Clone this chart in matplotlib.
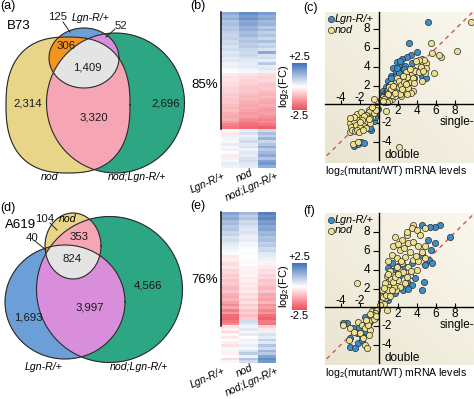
import numpy as np
import matplotlib
matplotlib.use('Agg')
import matplotlib.pyplot as plt
from matplotlib.colors import LinearSegmentedColormap, Normalize, to_rgba
from matplotlib.cm import ScalarMappable
from matplotlib.lines import Line2D

plt.rcParams['font.family'] = ['Liberation Sans', 'DejaVu Sans']
plt.rcParams['mathtext.fontset'] = 'custom'
plt.rcParams['mathtext.rm'] = 'Liberation Sans'
plt.rcParams['mathtext.it'] = 'Liberation Sans:italic'

W, H = 474, 399

#%% Venn counts (order: nod, Lgn, double, nod&Lgn, nod&double, Lgn&double, all)
venn_a_counts = [2314, 125, 2696, 306, 3320, 52, 1409]
venn_d_counts = [104, 1693, 4566, 40, 353, 3997, 824]
set_names = ['nod', 'Lgn-R/+', 'nod;Lgn-R/+']

#%% Heatmap rows (log2 FC), columns: Lgn-R/+, nod, nod;Lgn-R/+
b_lgn = [1.5, 1.2, 1.4, 1.0, 1.1, 0.9, 1.0, 0.8, 0.7, 0.8, 0.6, 0.7, 0.5, 0.6, 0.4, 0.5, 0.3, 0.4, 0.2, 0.25, 0.1, 0.05,
         -0.3, -0.4, -0.35, -0.5, -0.45, -0.6, -0.55, -0.7, -0.65, -0.8, -0.75, -0.9, -1.0, -0.9, -1.1, -1.2, -1.1, -1.4, -1.7, -1.9,
         0.1, -0.3, 0.2, -0.2, 0.1, 0.3, -0.1, 0.2, 0.0, -0.3, 0.2, 0.1, 0.3, 0.2]
b_nod = [2.0, 1.7, 1.9, 1.5, 1.6, 1.3, 1.4, 1.1, 1.2, 0.9, 1.0, 0.8, 0.9, 0.7, 0.6, 0.7, 0.5, 0.4, 0.3, 0.35, 0.2, 0.1,
         -0.4, -0.5, -0.6, -0.55, -0.7, -0.8, -0.75, -0.9, -1.0, -0.95, -1.1, -1.2, -1.15, -1.3, -1.4, -1.3, -1.6, -1.8, -2.0, -2.1,
         0.3, 0.5, 0.2, 0.4, 0.6, 0.3, 0.5, 0.2, 0.4, 0.3, 0.5, 0.6, 0.4, 0.3]
b_dbl = [1.7, 1.4, 1.6, 1.2, 1.3, 0.9, 1.2, 0.8, 1.0, 0.7, 1.1, 0.6, 0.8, 0.5, 1.5, 0.5, 0.6, 0.3, 0.9, 0.3, 0.4, 0.2,
         -0.5, -0.6, -0.5, -0.7, -0.8, -0.7, -0.9, -1.0, -0.9, -1.1, -1.2, -1.1, -1.3, -1.4, -1.3, -1.5, -1.7, -1.6, -1.9, -2.2,
         0.6, 1.1, 0.8, 1.3, 0.7, 1.0, 1.4, 0.9, 1.2, 1.5, 1.0, 1.6, 1.8, 1.4]
e_lgn = [1.6, 1.3, 1.5, 1.1, 1.2, 0.9, 1.0, 0.7, 0.8, 0.5, 0.6, 0.4, 0.3, 0.2, 0.1, 0.05,
         -0.3, -0.2, -0.4, -0.5, -0.3, -0.6, -0.5, -0.7, -0.6, -0.8, -0.7, -0.9, -1.0, -0.8, -1.1, -1.2, -1.0, -1.3, -1.6, -1.2,
         -1.8, -1.4, -2.0, -2.1, -1.9, -1.6,
         -0.4, -0.2, -0.5, -0.1, -0.3, 0.0, -0.2, -0.4, -0.1, 0.1, -0.2, 0.0, -0.5, 0.1]
e_nod = [1.2, 0.8, 1.0, 0.6, 0.7, 0.5, 0.4, 0.5, 0.3, 0.2, 0.3, 0.1, 0.15, 0.05, 0.0, 0.05, 0.0, -0.05, -0.1, 0.0, -0.15,
         -0.1, -0.2, -0.15, -0.3, -0.2, -0.35, -0.25, -0.4, -0.3, -0.5, -0.35, -0.6, -0.4, -0.7, -0.5, -0.8, -0.6, -0.9, -0.7,
         0.6, 0.4,
         0.2, 0.4, 0.1, 0.3, 0.0, 0.2, 0.1, 0.3, 0.1, 0.5, 0.9, 0.2, 1.0, 0.6]
e_dbl = [2.2, 1.9, 2.1, 1.7, 1.8, 1.5, 1.6, 1.2, 1.3, 1.0, 1.1, 0.8, 0.9, 0.6, 0.7, 0.4, 0.3, 0.2, 0.1, -0.2, -0.3,
         -0.5, -0.4, -0.6, -0.5, -0.8, -0.7, -0.9, -1.0, -0.8, -1.2, -1.1, -1.3, -1.0, -1.5, -1.3, -1.7, -1.5, -2.0, -2.2,
         -1.8, -1.9,
         -0.6, -0.3, 0.2, 0.5, 0.3, 0.8, 0.4, 1.0, 0.6, 1.3, 0.9, 1.6, 2.0, 1.8]
heat_cols = ['Lgn-R/+', 'nod', 'nod;Lgn-R/+']
b_pct, e_pct = '85%', '76%'

#%% Scatter: log2(mutant/WT), x = single mutant, y = double mutant
c_lgn = [(5.2, 8.8), (3.15, 6.6), (4.0, 5.6), (3.4, 5.3), (2.9, 5.1), (1.85, 4.5), (2.45, 4.85), (2.2, 4.25),
         (2.7, 4.1), (1.5, 3.9), (2.4, 3.7), (3.1, 3.5), (3.45, 4.4), (1.75, 3.5), (1.25, 3.0), (2.0, 3.0),
         (1.0, 2.45), (1.7, 2.45), (0.7, 1.9), (1.35, 1.75), (0.45, 1.4), (3.7, 2.8), (4.55, 3.05), (4.9, 2.8),
         (2.8, 3.3), (1.1, 2.1), (0.9, 1.5), (0.3, 0.9), (0.6, 1.2),
         (0.5, 0.9), (0.8, 1.4), (1.2, 2.0), (1.5, 2.6), (1.8, 3.0), (2.1, 3.3), (0.2, 0.5), (1.3, 2.8),
         (2.6, 3.8), (1.9, 3.9), (2.2, 4.6),
         (-2.6, -4.5), (-2.2, -4.2), (-1.9, -4.05), (-1.55, -4.1), (-0.8, -2.7), (-0.95, -2.5), (-0.5, -1.8),
         (-0.4, -1.35), (-0.3, -0.8), (-0.15, -0.5)]
c_nod = [(9.7, 8.8), (5.5, 6.55), (8.2, 5.7), (6.5, 5.1), (6.3, 5.3), (5.55, 5.5), (4.5, 4.85), (5.0, 4.4),
         (4.75, 4.7), (4.2, 4.7), (5.0, 3.9), (5.8, 3.35), (4.8, 3.35), (3.6, 1.45), (4.5, 2.45), (2.1, -4.55),
         (-0.5, 0.6), (0.7, -0.75),
         (1.0, 1.5), (1.5, 1.2), (2.0, 2.0), (2.5, 2.2), (3.0, 2.6), (3.2, 3.0), (2.8, 3.4), (3.5, 3.2), (3.8, 3.6),
         (4.0, 4.2), (2.2, 1.5), (1.8, 2.4), (2.6, 1.8), (3.0, 2.0), (3.4, 2.4), (1.2, 0.8), (0.8, 1.0), (1.6, 1.8),
         (2.4, 2.8), (3.6, 2.8), (4.2, 3.5), (4.4, 4.0), (3.9, 4.6), (3.3, 3.8), (2.9, 2.9), (2.0, 1.2), (1.4, 0.6),
         (0.6, 0.4), (0.4, 0.8), (2.7, 1.4), (3.1, 1.7), (2.3, 0.9), (1.7, 0.9), (3.4, 1.2), (2.5, 3.0), (1.9, 2.8),
         (1.3, 2.2), (0.9, 0.5), (0.3, 0.3), (1.1, 1.9), (2.1, 2.5), (4.6, 3.6), (3.7, 2.3), (2.9, 1.1),
         (0.2, 0.5), (0.5, 0.2), (0.7, 0.8), (1.0, 0.7), (1.2, 1.3), (1.4, 1.0), (1.6, 1.4), (1.8, 1.6), (0.9, 1.2),
         (1.1, 0.4), (1.3, 1.6), (1.5, 2.0), (1.9, 1.3), (2.1, 1.8), (2.3, 2.1), (2.6, 2.4), (2.2, 1.1), (0.5, 0.6),
         (0.8, 0.2), (1.7, 1.2), (2.4, 1.6), (2.8, 2.2), (1.0, 1.1), (0.4, 0.4),
         (-3.0, -3.0), (-3.1, -2.0), (-2.9, -2.4), (-2.8, -2.7), (-2.6, -1.8), (-2.4, -2.2), (-2.2, -1.5),
         (-2.0, -2.4), (-1.8, -1.2), (-1.5, -1.6), (-1.2, -0.9), (-1.0, -1.3), (-0.8, -0.6), (-0.5, -0.4),
         (-0.3, -0.2), (-2.5, -2.9), (-2.3, -2.7), (-1.6, -2.0), (-1.3, -1.8), (-0.9, -2.0), (-0.6, -1.0),
         (-2.3, -1.0), (-1.9, -0.8), (-2.7, -4.2), (-2.2, -4.0), (-2.6, -1.4), (-1.1, -0.6), (-0.7, -1.4),
         (-1.4, -2.5), (-2.1, -3.0), (-1.7, -2.8), (-3.0, -1.5),
         (-0.2, -0.4), (-0.4, -0.7), (-0.6, -0.5), (-0.8, -1.0), (-1.0, -0.8), (-1.2, -1.2), (-1.4, -1.1),
         (-0.5, -0.9), (-0.9, -1.5), (-1.6, -1.3), (-0.3, -0.6), (-1.1, -1.6), (-0.7, -0.3), (-1.8, -1.7),
         (-2.0, -1.9)]
f_lgn = [(6.4, 8.8), (5.9, 8.6), (5.4, 8.55), (4.55, 8.8), (7.5, 7.55), (5.2, 7.2), (5.9, 6.85), (5.5, 6.1),
         (4.5, 5.6), (5.25, 5.05), (5.6, 4.7), (4.85, 4.5), (3.45, 4.7), (2.75, 4.35), (1.35, 4.7), (1.0, 4.2),
         (1.7, 4.0), (2.2, 3.45), (3.8, 3.1), (4.75, 2.75), (3.5, 2.4), (2.9, 2.75), (1.15, 2.2), (1.7, 1.5),
         (2.55, 1.85), (0.65, 1.3), (0.9, 0.8), (3.1, 2.0), (4.5, 1.85), (0.4, 0.5),
         (0.3, 0.7), (0.6, 1.8), (0.9, 2.6), (1.2, 3.4), (1.5, 3.9), (2.0, 4.4), (0.8, 1.1), (1.4, 2.1), (0.4, 1.5),
         (-3.4, -1.7), (-3.75, -1.7), (-2.2, -2.25), (-2.35, -2.8), (-3.05, -3.3), (-3.05, -4.2), (-2.2, -3.85),
         (-1.8, -3.5), (-1.5, -2.6), (-1.1, -1.7), (-0.75, -1.2), (-1.5, -1.0), (-0.4, -0.65), (-1.8, -3.1),
         (-2.5, -4.4), (-2.7, -2.2), (-0.5, -0.5), (-0.9, -1.5), (-1.2, -2.1), (-0.3, -1.0)]
f_nod = [(3.6, 8.8), (3.5, 8.45), (3.95, 8.3), (4.3, 7.75), (4.85, 8.45), (2.9, 7.75), (1.7, 7.55), (2.4, 7.2),
         (3.1, 6.85), (3.6, 7.0), (4.15, 6.5), (1.5, 6.5), (2.2, 6.1), (3.25, 5.95), (4.5, 5.95), (4.85, 6.5),
         (1.35, 5.6), (1.85, 5.25), (2.75, 5.4), (3.6, 5.05), (4.15, 4.9), (4.85, 5.25), (2.4, 4.7), (3.1, 4.35),
         (1.85, 4.35), (4.0, 4.0), (2.55, 3.8), (1.5, 3.45), (3.25, 3.45), (0.8, 3.3), (2.05, 2.9), (2.75, 2.55),
         (1.35, 2.55), (0.65, 2.2), (2.2, 2.2), (1.15, 1.7), (0.45, 1.5), (0.3, 0.8), (-2.35, 2.55), (0.8, -0.3),
         (1.0, 5.0), (2.0, 6.8), (3.0, 8.0), (2.6, 6.3), (3.9, 5.5), (1.2, 3.9), (2.9, 3.2), (0.9, 2.6), (1.8, 1.9),
         (3.4, 3.9), (2.3, 5.0), (1.6, 2.2), (0.6, 1.0), (0.2, 0.3),
         (0.2, 0.6), (0.4, 1.1), (0.6, 1.6), (0.8, 2.0), (1.0, 2.3), (0.5, 0.4), (0.7, 1.3), (0.9, 1.9), (1.1, 2.8),
         (0.3, 1.8), (0.6, 2.6), (1.3, 3.0), (1.5, 2.7), (0.9, 3.6), (1.2, 1.2), (1.4, 1.9), (0.1, 0.2), (0.5, 2.1),
         (1.7, 3.2), (2.0, 3.6),
         (-3.75, -1.9), (-3.05, -2.25), (-2.2, -1.55), (-1.8, -1.9), (-1.5, -2.25), (-2.0, -2.8), (-1.65, -3.3),
         (-1.5, -4.0), (-1.3, -4.4), (-3.2, -3.5), (-1.1, -1.2), (-0.6, -1.0), (-0.75, -0.45), (-1.3, -1.7),
         (-0.95, -2.4), (-0.3, -0.3), (-1.0, -3.0), (-2.6, -2.6),
         (-0.2, -0.3), (-0.4, -0.6), (-0.6, -0.8), (-0.8, -1.1), (-1.0, -1.5), (-1.2, -1.9), (-0.5, -1.3),
         (-0.9, -0.7), (-1.4, -1.4), (-0.3, -0.9)]
sc_ticks = [-4, -2, 2, 4, 6, 8]

#%% colours
venn_colors = {'nod': '#E9D688', 'lgn': '#6C9FD8', 'dbl': '#2DA683', 'nod_lgn': '#F3941F',
               'nod_dbl': '#F6A5B5', 'lgn_dbl': '#D98EDB', 'all': '#E4E4E4'}
fc_cmap = LinearSegmentedColormap.from_list('fc', ['#EF4B59', '#FFFFFF', '#3E70B8'])
BLUE, YELLOW = '#3C8DC9', '#EEE08F'

fig = plt.figure(figsize=(W / 100, H / 100), dpi=100)


def px_axes(x0, y0, x1, y1):
    return fig.add_axes([x0 / W, 1 - y1 / H, (x1 - x0) / W, (y1 - y0) / H])


def ftxt(x, y, s, **kw):
    kw.setdefault('ha', 'center')
    kw.setdefault('va', 'center')
    fig.text(x / W, 1 - y / H, s, **kw)


def draw_venn(ax, shapes, counts, count_pos, name_pos, leaders, n=800):
    # shapes: (cx, cy, a, b, p) superellipses, p=2 is a plain ellipse
    g = (np.arange(n) + 0.5) * 200 / n
    X, Y = np.meshgrid(g, g)
    N, L, D = [np.abs((X - s[0]) / s[2]) ** s[4] + np.abs((Y - s[1]) / s[3]) ** s[4] <= 1 for s in shapes]
    regions = [('nod', N & ~L & ~D), ('lgn', L & ~N & ~D), ('dbl', D & ~N & ~L), ('nod_lgn', N & L & ~D),
               ('nod_dbl', N & D & ~L), ('lgn_dbl', L & D & ~N), ('all', N & L & D)]
    img = np.zeros((n, n, 4))
    for key, m in regions:
        img[m] = to_rgba(venn_colors[key])
    ax.imshow(img, extent=[0, 200, 200, 0], aspect='auto')
    t = np.linspace(0, 2 * np.pi, 400)
    for cx, cy, a, b, p in shapes:
        ct, st = np.cos(t), np.sin(t)
        ax.plot(cx + a * np.sign(ct) * np.abs(ct) ** (2 / p), cy + b * np.sign(st) * np.abs(st) ** (2 / p),
                color='#2a2a2a', lw=0.8)
    for cnt, (x, y) in zip(counts, count_pos):
        ax.text(x, y, f"{cnt:,}", ha='center', va='center', fontsize=8.2, color='#1a1a1a')
    for name, (x, y) in zip(set_names, name_pos):
        ax.text(x, y, name, ha='center', va='center', fontsize=7.6, style='italic')
    for (x0, y0), (x1, y1) in leaders:
        ax.plot([x0, x1], [y0, y1], color='#222222', lw=0.7)
    ax.set_xlim(0, 200)
    ax.set_ylim(200, 0)
    ax.axis('off')


def draw_heat(ax, cols):
    ax.imshow(np.column_stack(cols), cmap=fc_cmap, vmin=-2.5, vmax=2.5, aspect='auto', interpolation='nearest')
    ax.axis('off')


def draw_cbar(x0, y0, x1, y1):
    cax = px_axes(x0, y0, x1, y1)
    cb = fig.colorbar(ScalarMappable(Normalize(-2.5, 2.5), fc_cmap), cax=cax)
    cb.set_ticks([])
    cb.outline.set_visible(False)
    xc = (x0 + x1) / 2
    ftxt(xc, y0 - 6, '+2.5', fontsize=8)
    ftxt(xc, y1 + 6, '-2.5', fontsize=8)
    ftxt(x0 - 8, (y0 + y1) / 2, 'log$_2$(FC)', fontsize=8, rotation=90)


def draw_scatter(ax, lgn, nod, ylim):
    grad = np.linspace(0, 1, 64)
    gx, gy = np.meshgrid(grad, grad[::-1])
    t = (gx + gy) / 2
    bg = np.dstack([234 + 16 * t, 229 + 18 * t, 208 + 30 * t]) / 255
    ax.imshow(bg, extent=[0, 1, 0, 1], transform=ax.transAxes, aspect='auto', zorder=0)
    ax.plot([-8, 12], [-8, 12], ls=(0, (3, 3)), color='#C9565E', lw=1.0, zorder=1)
    lgn, nod = np.array(lgn), np.array(nod)
    ax.scatter(lgn[:, 0], lgn[:, 1], s=20, c=BLUE, edgecolors='#2a2a2a', linewidths=0.5, zorder=3, label='Lgn-R/+')
    ax.scatter(nod[:, 0], nod[:, 1], s=20, c=YELLOW, edgecolors='#2a2a2a', linewidths=0.5, zorder=4, label='nod')
    ax.set_xlim(-5.68, 10.0)
    ax.set_ylim(*ylim)
    for sp in ['top', 'right']:
        ax.spines[sp].set_visible(False)
    ax.spines['left'].set_position(('data', 0))
    ax.spines['bottom'].set_position(('data', 0))
    ax.spines['left'].set_bounds(-5.95, ylim[1])
    ax.spines['bottom'].set_bounds(-5.68, 10.0)
    for sp in ['left', 'bottom']:
        ax.spines[sp].set_linewidth(1.0)
        ax.spines[sp].set_zorder(5)
    ax.set_xticks(sc_ticks)
    ax.set_yticks(sc_ticks)
    ax.set_xticklabels([])
    ax.set_yticklabels([])
    ax.tick_params(axis='x', direction='in', length=3, width=0.8)
    ax.tick_params(axis='y', direction='out', length=4, width=0.8)
    for v in sc_ticks:
        if v < 0:
            ax.text(v, 0.7, str(v), ha='center', va='center', fontsize=8.5, zorder=6)
            ax.text(0.3, v, str(v), ha='left', va='center', fontsize=8.5, zorder=6)
        else:
            ax.text(v, -0.7, str(v), ha='center', va='center', fontsize=8.5, zorder=6)
            ax.text(-0.9, v, str(v), ha='right', va='center', fontsize=8.5, zorder=6)
    ax.text(10.0, -1.9, 'single-', ha='right', va='center', fontsize=8.5, zorder=6)
    ax.text(0.6, -5.4, 'double', ha='left', va='center', fontsize=8.5, zorder=6)
    leg = ax.legend(loc='upper left', bbox_to_anchor=(-0.03, 1.03), frameon=False, handletextpad=0.05,
                    handlelength=0.7, labelspacing=0.05, borderaxespad=0.2, prop={'size': 7.8, 'style': 'italic'})
    leg.set_zorder(7)


#%% (a) / (d) Venn diagrams
ax_a = px_axes(0, 0, 200, 200)
draw_venn(ax_a, [(68, 105, 62, 68, 2.5), (84, 58, 35, 30, 2), (115.5, 103, 69, 70, 2)], venn_a_counts,
          [(28, 103), (58, 17.5), (166, 103), (66, 46), (94, 118), (121, 26), (87, 67)],
          [(50, 177), (91, 18), (137, 177)],
          [((63, 22), (70, 32)), ((115, 29), (106, 37))])
ax_d = px_axes(0, 200, 200, 400)
draw_venn(ax_d, [(73, 46, 28, 33, 2), (65, 102, 60, 57, 2), (109.5, 89.5, 73, 73, 2)], venn_d_counts,
          [(45, 19), (28, 117), (148, 85), (32, 38), (79, 37), (90, 107), (72, 59)],
          [(68, 19), (44, 167), (139, 167)],
          [((50, 23), (57, 30)), ((35, 41), (46, 50))])
ftxt(0, 6, '(a)', fontsize=9, ha='left')
ftxt(7, 26, 'B73', fontsize=9.5, ha='left')
ftxt(0, 208, '(d)', fontsize=9, ha='left')
ftxt(5, 225, 'A619', fontsize=9.5, ha='left')

#%% (b) / (e) heatmaps
for top, bot, line_end, pct_y, cols, pct, lab in [(12, 168, 129, 85, [b_lgn, b_nod, b_dbl], b_pct, '(b)'),
                                                  (212, 363, 326, 280, [e_lgn, e_nod, e_dbl], e_pct, '(e)')]:
    axh = px_axes(221, top, 276, bot)
    draw_heat(axh, cols)
    fig.add_artist(Line2D([220.5 / W, 220.5 / W], [1 - top / H, 1 - line_end / H], color='#222222', lw=1.2))
    ftxt(218, pct_y, pct, fontsize=9.5, ha='right')
    ftxt(190, top - 6, lab, fontsize=9, ha='left')
    for name, x, dy in zip(heat_cols, [225, 252, 278], [7, 4, 7]):
        ftxt(x, bot + dy, name, fontsize=7.5, style='italic', ha='right', rotation=24, rotation_mode='anchor')
    draw_cbar(292, top + 51, 307, top + 98)

#%% (c) / (f) scatter
ax_c = px_axes(325, 12, 474, 163)
draw_scatter(ax_c, c_lgn, c_nod, (-6.28, 9.87))
ax_f = px_axes(325, 213, 474, 365)
draw_scatter(ax_f, f_lgn, f_nod, (-6.17, 10.08))
ftxt(303, 8, '(c)', fontsize=9, ha='left')
ftxt(303, 211, '(f)', fontsize=9, ha='left')
ftxt(396, 171, 'log$_2$(mutant/WT) mRNA levels', fontsize=7.6)
ftxt(396, 373, 'log$_2$(mutant/WT) mRNA levels', fontsize=7.6)

fig.savefig('out.png', dpi=100)
